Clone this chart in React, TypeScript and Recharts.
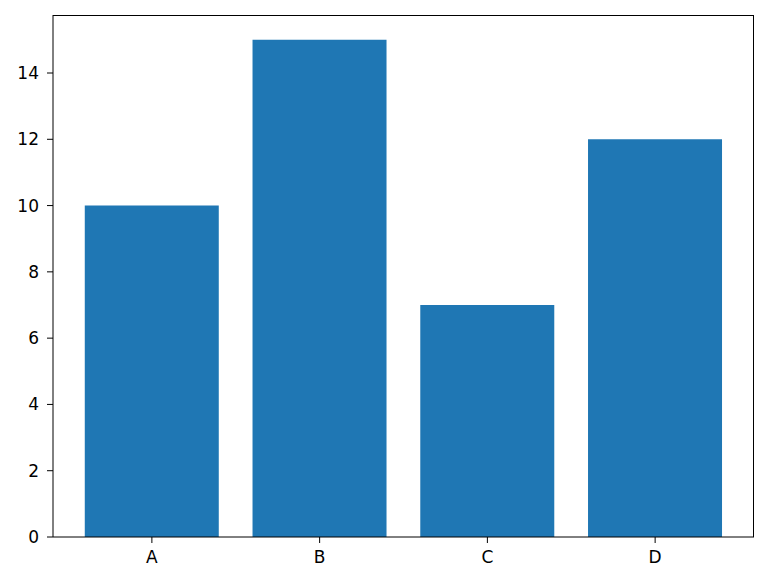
import React from 'react';
import { BarChart, Bar, XAxis, YAxis } from 'recharts';

const categories = ['A', 'B', 'C', 'D'];
const values = [10, 15, 7, 12];
const yTicks = [0, 2, 4, 6, 8, 10, 12, 14];

const data = categories.map((name, i) => ({ name, value: values[i] }));

const tickStyle = { fill: '#000', fontSize: 17, fontFamily: 'DejaVu Sans' };

const App: React.FC = () => {
  return (
    <div style={{ position: 'absolute', left: 0, top: 0, width: 768, height: 585, background: '#fff' }}>
      <BarChart
        width={768}
        height={585}
        data={data}
        margin={{ top: 15, right: 14, left: 0, bottom: 0 }}
        barCategoryGap="10%"
      >
        <XAxis
          dataKey="name"
          height={48}
          padding={{ left: 15, right: 15 }}
          tick={tickStyle}
          tickLine={{ stroke: '#000' }}
          axisLine={{ stroke: '#000' }}
          tickSize={6}
          tickMargin={8}
        />
        <YAxis
          domain={[0, 15.75]}
          ticks={yTicks}
          width={53}
          tick={tickStyle}
          tickLine={{ stroke: '#000' }}
          axisLine={{ stroke: '#000' }}
          tickSize={6}
          tickMargin={8}
          allowDataOverflow
        />
        <Bar dataKey="value" fill="#1f77b4" isAnimationActive={false} />
      </BarChart>
      {/* axes frame, top and right sides */}
      <div
        style={{
          position: 'absolute',
          left: 53,
          top: 15,
          width: 701,
          height: 522,
          borderTop: '1px solid #000',
          borderRight: '1px solid #000',
          boxSizing: 'border-box',
          pointerEvents: 'none',
        }}
      />
    </div>
  );
};

export default App;
